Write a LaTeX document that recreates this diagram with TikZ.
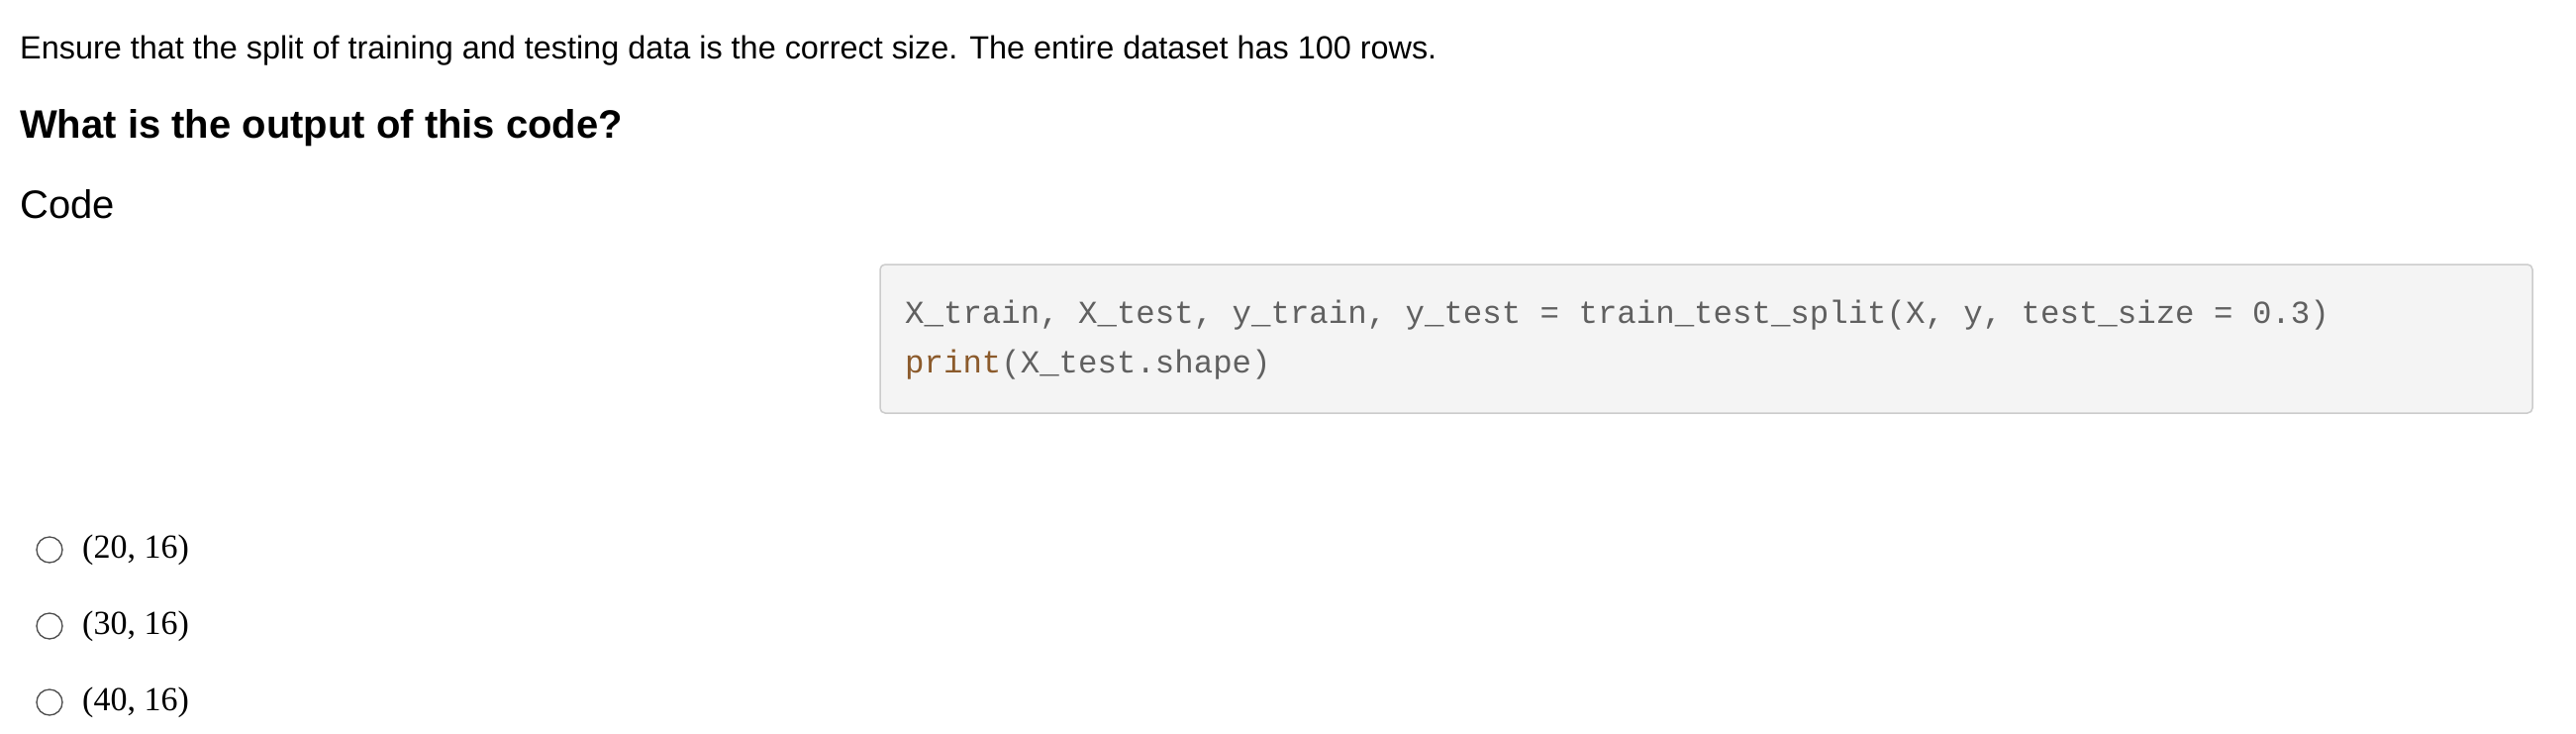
\documentclass[tikz,border=0pt]{standalone}
\usepackage{fontspec}
\setmainfont{Liberation Sans}
\newfontfamily\serifb{Liberation Serif}
\newfontfamily\monob{Liberation Mono}
\definecolor{codegray}{HTML}{F4F4F4}
\definecolor{boxline}{HTML}{CCCCCC}
\definecolor{codetxt}{HTML}{606060}
\definecolor{printc}{HTML}{8B5A2B}
\begin{document}
\begin{tikzpicture}[x=1pt,y=-1pt,
  txt/.style={anchor=base west,inner sep=0pt,font=\fontsize{32.4}{36}\selectfont},
  codetext/.style={anchor=base west,inner sep=0pt,text=codetxt,font=\monob\fontsize{32.4}{36}\selectfont},
  opt/.style={anchor=west,inner sep=0pt,font=\serifb\fontsize{34}{38}\selectfont},
  radio/.style={circle,draw=black!70,line width=1.3pt,minimum size=26pt,inner sep=0pt}]
\useasboundingbox[fill=white] (0,0) rectangle (2602,740);
\node[txt] (intro) at (20,59) {Ensure that the split of training and testing data is the correct size. The entire dataset has 100 rows.};
\node[txt,font=\bfseries\fontsize{40}{44}\selectfont] (q) at (20,139) {What is the output of this code?};
\node[txt,font=\fontsize{40}{44}\selectfont] (code) at (20,220) {Code};
\draw[fill=codegray,draw=boxline,line width=1.5pt,rounded corners=5pt] (889,267) rectangle (2558,417);
\node[codetext] (l1) at (914,326) {X\_train, X\_test, y\_train, y\_test = train\_test\_split(X, y, test\_size = 0.3)};
\node[codetext] (l2) at (914,376) {\textcolor{printc}{print}(X\_test.shape)};
\foreach \y/\t [count=\i] in {555/{(20, 16)},632/{(30, 16)},709/{(40, 16)}}{
  \node[radio] (r\i) at (50,\y) {};
  \node[opt] (o\i) at (83,\y) {\t};
}
\end{tikzpicture}
\end{document}
